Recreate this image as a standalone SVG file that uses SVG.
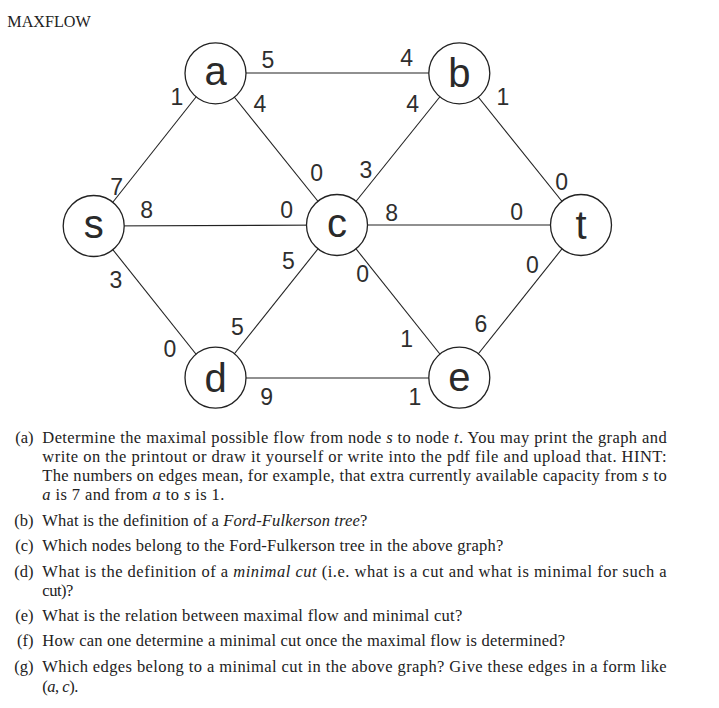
<svg xmlns="http://www.w3.org/2000/svg" width="719" height="708" viewBox="0 0 719 708">
<style>
.edge{stroke:#222;stroke-width:1.1;fill:none}
.node circle{fill:#fff;stroke:#222;stroke-width:1.3}
.node text{font-family:"Liberation Sans",Arial,sans-serif;font-size:40px;fill:#2a2a2a;text-anchor:middle}
.w{font-family:"Liberation Sans",Arial,sans-serif;font-size:23px;fill:#2e2e2e;text-anchor:middle}
.t{font-family:"Liberation Serif","Times New Roman",serif;font-size:16.5px;fill:#222}
.lab{text-anchor:end}
.i{font-style:italic}
</style>
<rect width="719" height="708" fill="#fff"/>
<text x="7.3" y="27.3" class="t" style="font-size:16px" textLength="83.4" lengthAdjust="spacingAndGlyphs">MAXFLOW</text>
<g id="connectors">
<line class="edge" x1="215" y1="73" x2="459" y2="73"/>
<line class="edge" x1="94" y1="226" x2="337" y2="225"/>
<line class="edge" x1="337" y1="225" x2="581" y2="225"/>
<line class="edge" x1="215" y1="378" x2="459" y2="378"/>
<line class="edge" x1="94" y1="226" x2="215" y2="73"/>
<line class="edge" x1="215" y1="73" x2="337" y2="225"/>
<line class="edge" x1="459" y1="73" x2="337" y2="225"/>
<line class="edge" x1="459" y1="73" x2="581" y2="225"/>
<line class="edge" x1="94" y1="226" x2="215" y2="378"/>
<line class="edge" x1="215" y1="378" x2="337" y2="225"/>
<line class="edge" x1="337" y1="225" x2="459" y2="378"/>
<line class="edge" x1="459" y1="378" x2="581" y2="225"/>
</g>
<g id="edge-labels">
<text class="w" x="268" y="68">5</text>
<text class="w" x="406.7" y="66">4</text>
<text class="w" x="177" y="105">1</text>
<text class="w" x="260" y="112">4</text>
<text class="w" x="412.7" y="112">4</text>
<text class="w" x="503" y="105">1</text>
<text class="w" x="316.7" y="181">0</text>
<text class="w" x="366" y="178">3</text>
<text class="w" x="561.7" y="190">0</text>
<text class="w" x="116.7" y="195">7</text>
<text class="w" x="146.7" y="218">8</text>
<text class="w" x="286.7" y="218">0</text>
<text class="w" x="391.7" y="221">8</text>
<text class="w" x="516.7" y="220">0</text>
<text class="w" x="116" y="288">3</text>
<text class="w" x="288.3" y="269">5</text>
<text class="w" x="362.7" y="282">0</text>
<text class="w" x="532.3" y="273">0</text>
<text class="w" x="237.3" y="335">5</text>
<text class="w" x="170" y="357">0</text>
<text class="w" x="481" y="332">6</text>
<text class="w" x="406.7" y="347">1</text>
<text class="w" x="266.7" y="405">9</text>
<text class="w" x="415" y="405">1</text>
</g>
<g id="node-a" class="node"><circle cx="215.5" cy="73.3" r="30.5"/><text x="215.5" y="84.5">a</text></g>
<g id="node-b" class="node"><circle cx="459.3" cy="73.3" r="30.5"/><text x="459.3" y="87">b</text></g>
<g id="node-s" class="node"><circle cx="93.7" cy="226" r="30.5"/><text x="93.7" y="238">s</text></g>
<g id="node-c" class="node"><circle cx="337" cy="225" r="30.5"/><text x="337" y="237">c</text></g>
<g id="node-t" class="node"><circle cx="581" cy="225" r="30.5"/><text x="581" y="239">t</text></g>
<g id="node-d" class="node"><circle cx="215.5" cy="377.7" r="30.5"/><text x="215.5" y="392">d</text></g>
<g id="node-e" class="node"><circle cx="459.3" cy="377.7" r="30.5"/><text x="459.3" y="391">e</text></g>
<g id="questions">
<text class="t lab" x="33.5" y="443.3">(a)</text>
<text class="t" x="42.3" y="443.3" textLength="624.4" lengthAdjust="spacing">Determine the maximal possible flow from node <tspan class="i">s</tspan> to node <tspan class="i">t</tspan>. You may print the graph and</text>
<text class="t" x="42.3" y="462" textLength="624.4" lengthAdjust="spacing">write on the printout or draw it yourself or write into the pdf file and upload that. HINT:</text>
<text class="t" x="42.3" y="481" textLength="624.4" lengthAdjust="spacing">The numbers on edges mean, for example, that extra currently available capacity from <tspan class="i">s</tspan> to</text>
<text class="t" x="42.3" y="499.5" textLength="182" lengthAdjust="spacing"><tspan class="i">a</tspan> is 7 and from <tspan class="i">a</tspan> to <tspan class="i">s</tspan> is 1.</text>
<text class="t lab" x="33.5" y="525.7">(b)</text>
<text class="t" x="42.3" y="525.7" textLength="325" lengthAdjust="spacing">What is the definition of a <tspan class="i">Ford-Fulkerson tree</tspan>?</text>
<text class="t lab" x="33.5" y="551">(c)</text>
<text class="t" x="42.3" y="551" textLength="461" lengthAdjust="spacing">Which nodes belong to the Ford-Fulkerson tree in the above graph?</text>
<text class="t lab" x="33.5" y="576.7">(d)</text>
<text class="t" x="42.3" y="576.7" textLength="624.4" lengthAdjust="spacing">What is the definition of a <tspan class="i">minimal cut</tspan> (i.e. what is a cut and what is minimal for such a</text>
<text class="t" x="42.3" y="595.5" textLength="31" lengthAdjust="spacing">cut)?</text>
<text class="t lab" x="33.5" y="621">(e)</text>
<text class="t" x="42.3" y="621" textLength="420" lengthAdjust="spacing">What is the relation between maximal flow and minimal cut?</text>
<text class="t lab" x="33.5" y="645.7">(f)</text>
<text class="t" x="42.3" y="645.7" textLength="522.7" lengthAdjust="spacing">How can one determine a minimal cut once the maximal flow is determined?</text>
<text class="t lab" x="33.5" y="671.7">(g)</text>
<text class="t" x="42.3" y="671.7" textLength="624.4" lengthAdjust="spacing">Which edges belong to a minimal cut in the above graph? Give these edges in a form like</text>
<text class="t" x="42.3" y="691.7" textLength="36" lengthAdjust="spacing">(<tspan class="i">a</tspan>, <tspan class="i">c</tspan>).</text>
</g>
</svg>
